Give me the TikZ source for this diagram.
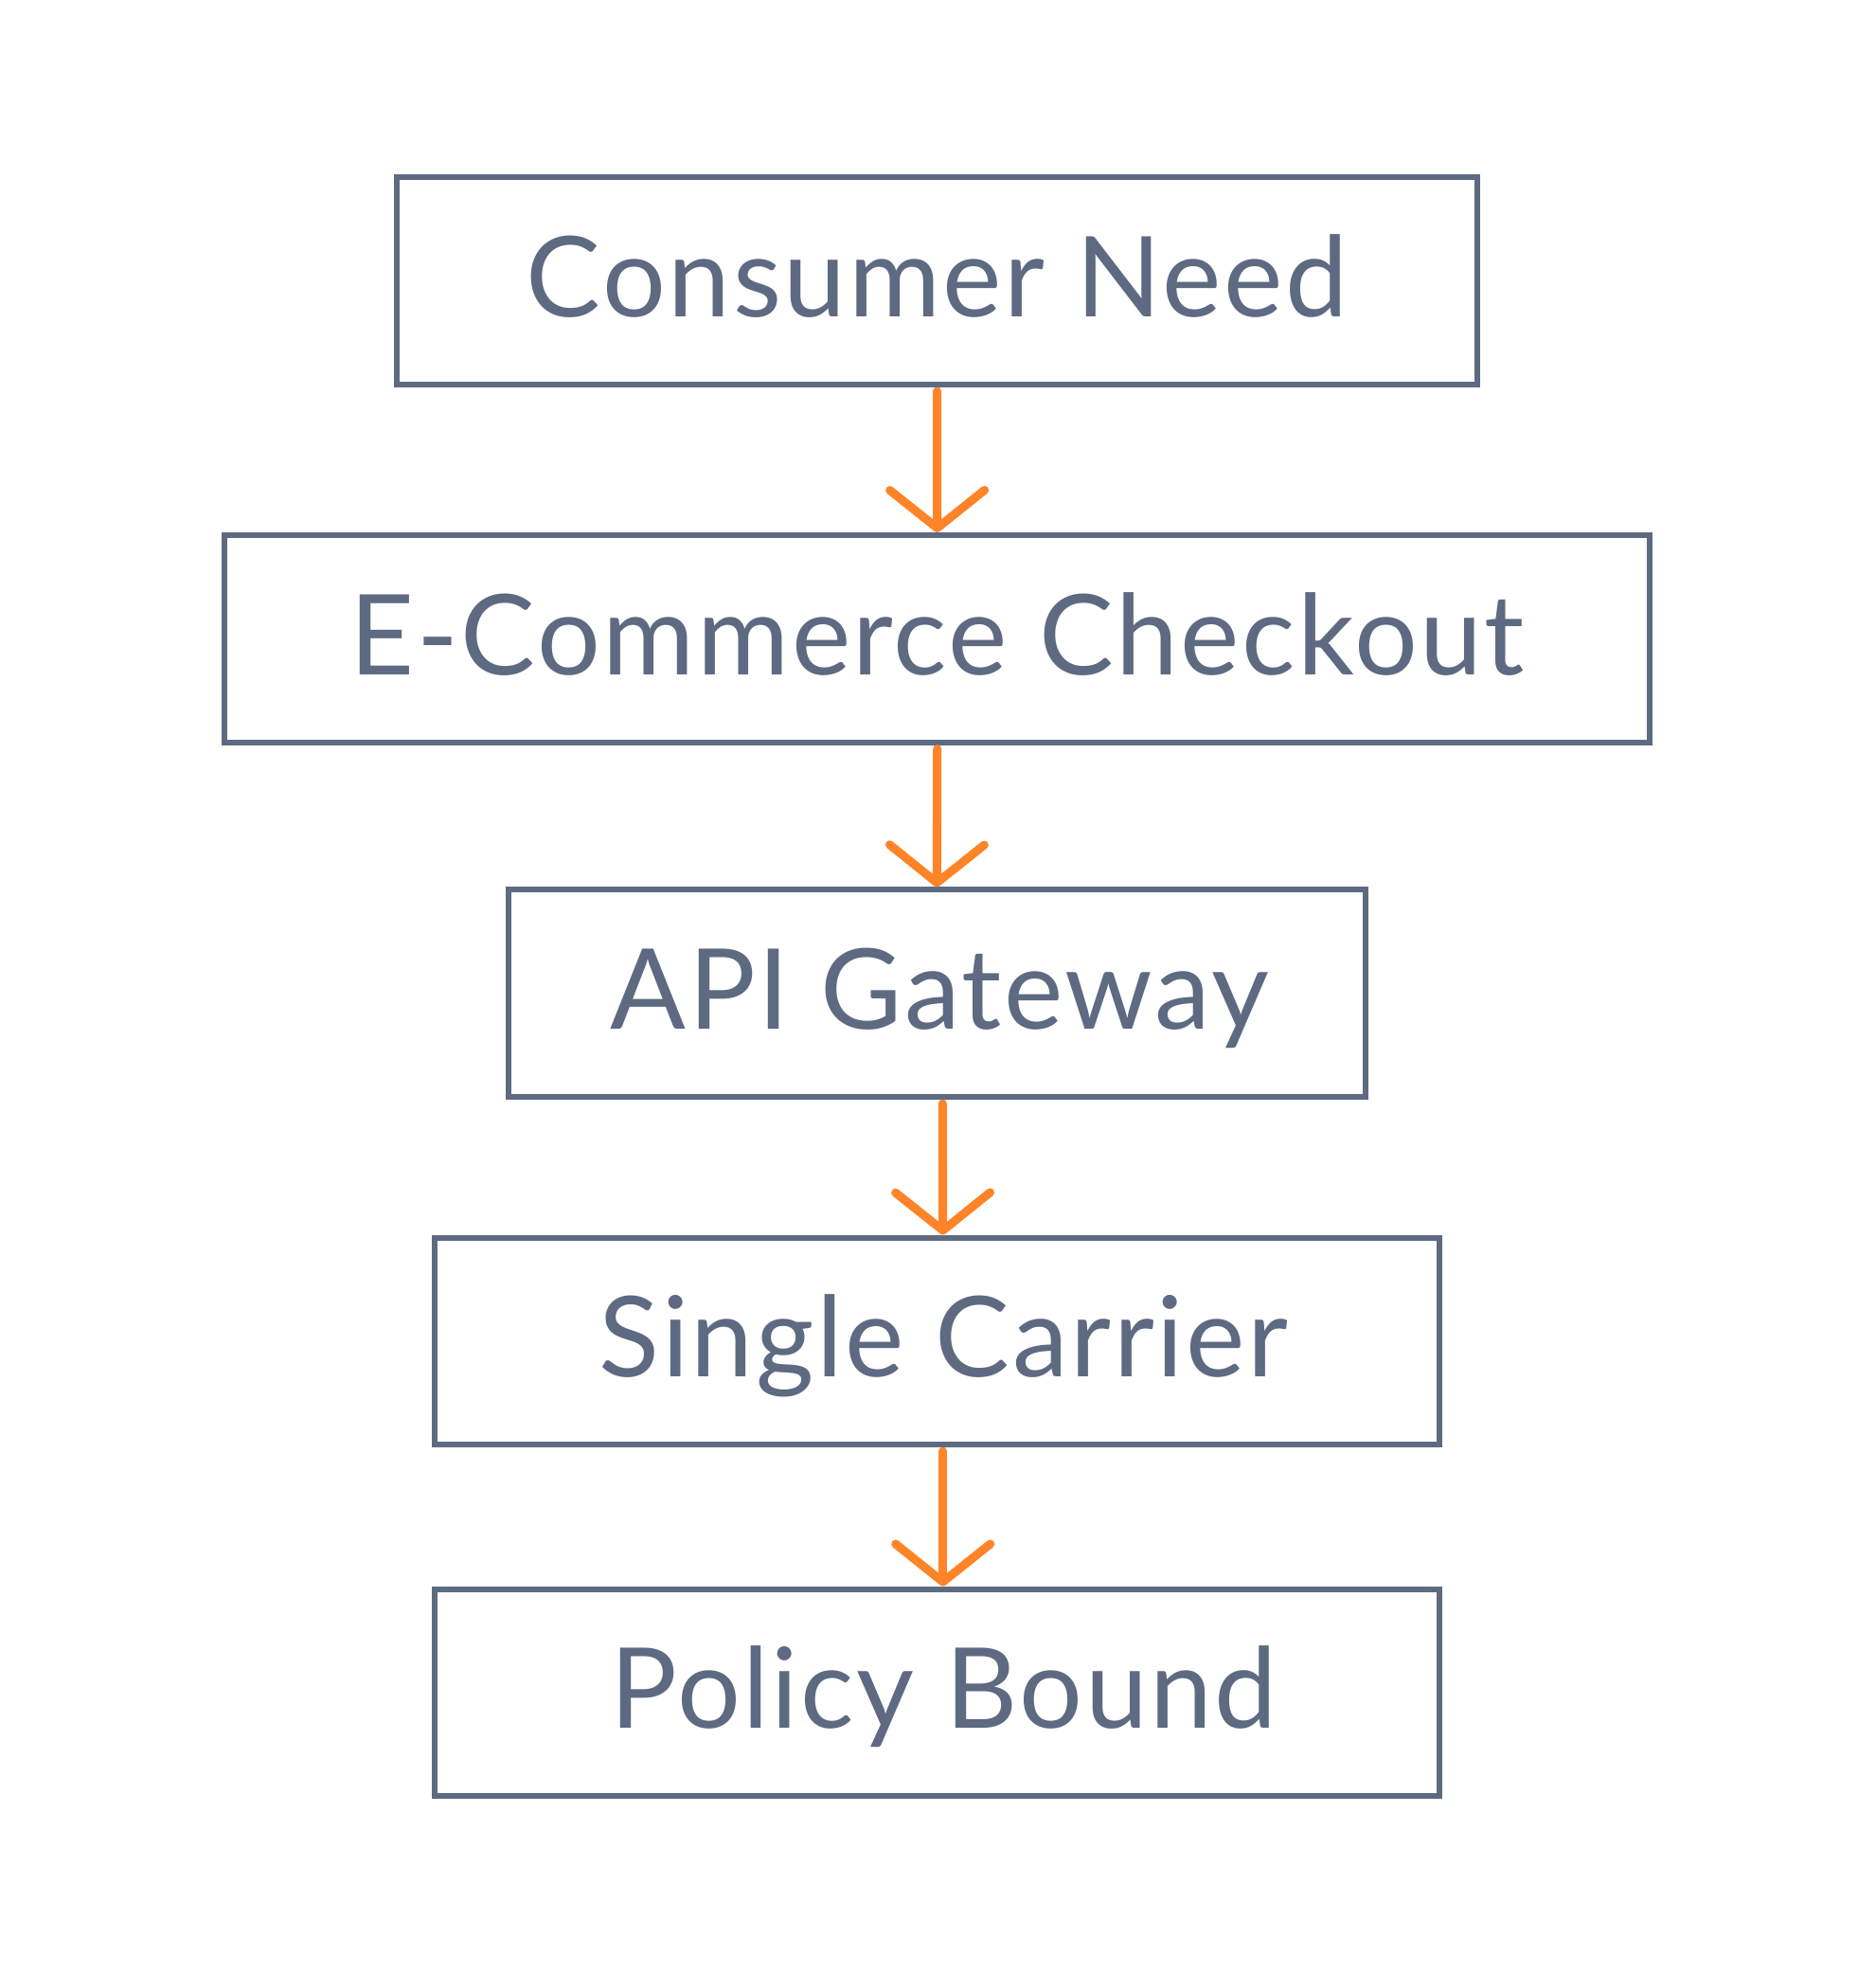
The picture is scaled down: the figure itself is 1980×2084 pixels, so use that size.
\documentclass[tikz,border=0pt]{standalone}
\usepackage{fontspec}
\setmainfont{Lato}[LetterSpace=2.2]
\usetikzlibrary{arrows.meta}
\definecolor{slate}{HTML}{5E6A82}
\definecolor{orng}{HTML}{FF8427}
\begin{document}
\begin{tikzpicture}[x=1pt,y=-1pt,
  box/.style={draw=slate, line width=6pt, minimum height=218.6pt, inner sep=0pt,
    text=slate, text height=76pt, text depth=0pt, font=\fontsize{118}{128}\selectfont},
  flow/.style={draw=orng, line width=9pt, line cap=round,
    -{Straight Barb[length=40pt, width=100pt, round]}}]
\useasboundingbox (0,0) rectangle (1980,2084);
\node[box, minimum width=1141.7pt] (n1) at (989.5,296.7) {Consumer Need};
\node[box, minimum width=1504.7pt] (n2) at (989.7,674.3) {E-Commerce Checkout};
\node[box, minimum width=905.3pt] (n3) at (989.3,1048.7) {\hspace*{6pt}API Gateway};
\node[box, minimum width=1060.7pt] (n4) at (989.7,1415.8) {\hspace*{14pt}Single Carrier};
\node[box, minimum width=1060.7pt] (n5) at (989.7,1786.8) {\hspace*{14pt}Policy Bound};
\draw[flow] ([yshift=-4pt]n1.south) -- (n2.north);
\draw[flow] ([yshift=-4pt]n2.south) -- (n3.north);
\draw[flow] ([xshift=6pt,yshift=-4pt]n3.south) -- ([xshift=6pt]n4.north);
\draw[flow] ([xshift=6pt,yshift=-4pt]n4.south) -- ([xshift=6pt]n5.north);
\end{tikzpicture}
\end{document}
